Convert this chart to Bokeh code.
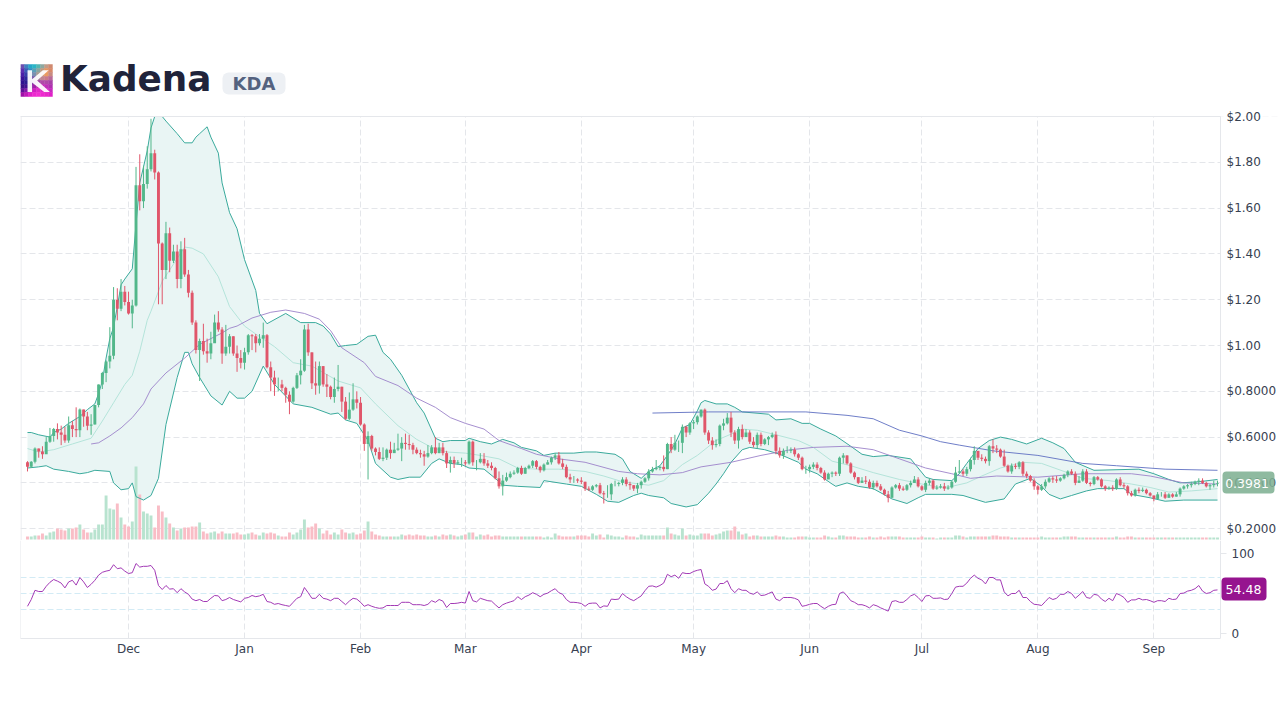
from bokeh.embed import file_html
from bokeh.layouts import column
from bokeh.models import FixedTicker, Range1d, Span
from bokeh.plotting import figure
from bokeh.resources import INLINE

NAME = "Kadena"
SYMBOL = "KDA"
MONTHS = ["Dec", "Jan", "Feb", "Mar", "Apr", "May", "Jun", "Jul", "Aug", "Sep"]
MONTH_DAYS = [27, 58, 89, 117, 148, 178, 209, 239, 270, 301]
PRICE_TICKS = [2.0, 1.8, 1.6, 1.4, 1.2, 1.0, 0.8, 0.6, 0.4, 0.2]
PRICE_LABELS = ["$2.00", "$1.80", "$1.60", "$1.40", "$1.20", "$1.00", "$0.8000", "$0.6000", "$0.4000", "$0.2000"]
LAST_PRICE = "0.3981"
LAST_RSI = "54.48"
FIRST_OPEN = 0.49

close_nov = [.47,.492,.55,.537,.525,.58,.605,.635,.62,.61,.585,.652,.635,.63,.72,.69,.65,.655,.74,.83,.88,.93,.955,1.2,1.16,1.235,1.19]
close_dec = [1.14,1.175,1.70,1.63,1.705,1.77,1.84,1.755,1.445,1.33,1.49,1.37,1.41,1.29,1.42,1.31,1.23,1.10,.98,1.02,.975,.965,1.01,1.10,1.07,.965,.995,1.04,.965,.945,.925]
close_jan = [.97,1.045,1.04,1.01,1.03,1.045,.905,.86,.83,.83,.815,.785,.755,.815,.87,.89,1.07,.97,.835,.825,.91,.83,.82,.775,.81,.82,.755,.68,.72,.765,.75]
close_feb = [.655,.57,.605,.55,.535,.505,.51,.545,.53,.545,.55,.575,.57,.565,.545,.53,.525,.515,.53,.555,.53,.555,.53,.485,.50,.485,.49,.49]
close_mar = [.485,.58,.49,.49,.505,.485,.475,.465,.42,.385,.41,.425,.44,.445,.465,.44,.465,.475,.495,.47,.455,.48,.49,.51,.52,.485,.47,.425,.415,.415,.41]
close_apr = [.405,.375,.37,.385,.39,.355,.35,.35,.395,.395,.40,.415,.395,.39,.375,.39,.405,.42,.45,.46,.465,.47,.46,.57,.545,.575,.575,.645,.62,.66]
close_may = [.665,.69,.72,.62,.585,.565,.57,.65,.66,.685,.62,.585,.635,.60,.62,.58,.565,.61,.57,.59,.60,.61,.54,.52,.54,.54,.545,.525,.51,.46,.46]
close_jun = [.47,.48,.465,.445,.415,.44,.445,.44,.51,.52,.485,.445,.425,.40,.41,.405,.38,.40,.385,.37,.35,.335,.38,.39,.375,.37,.39,.40,.415,.385]
close_jul = [.37,.40,.41,.375,.38,.385,.375,.38,.405,.445,.45,.44,.46,.50,.54,.51,.505,.495,.56,.55,.545,.515,.475,.45,.475,.47,.49,.44,.43,.41,.385]
close_aug = [.37,.385,.405,.42,.415,.41,.42,.435,.45,.44,.40,.41,.45,.40,.395,.425,.415,.385,.375,.38,.375,.415,.39,.385,.355,.345,.37,.365,.37,.355,.345]
close_sep = [.33,.35,.35,.335,.35,.34,.35,.375,.385,.39,.395,.405,.41,.40,.385,.39,.395,.3981]

high_nov = [.495,.495,.555,.55,.56,.60,.64,.64,.66,.65,.645,.69,.67,.73,.725,.72,.71,.70,.74,.83,.885,.935,1.08,1.255,1.25,1.29,1.26]
high_dec = [1.235,1.20,1.78,1.835,1.785,1.87,1.99,1.855,1.76,1.45,1.54,1.515,1.44,1.44,1.455,1.47,1.33,1.24,1.11,1.03,1.095,1.03,1.06,1.135,1.15,1.08,1.09,1.05,1.04,1.0,.98]
high_jan = [.99,1.05,1.05,1.05,1.05,1.10,1.05,.93,.89,.86,.85,.82,.80,.82,.88,.94,1.09,1.095,.97,.93,.93,.91,.875,.825,.86,.915,.82,.775,.795,.835,.80]
high_feb = [.775,.66,.625,.61,.555,.555,.555,.55,.58,.575,.615,.60,.615,.61,.575,.555,.545,.54,.565,.565,.60,.575,.575,.54,.515,.515,.50,.51]
high_mar = [.50,.585,.585,.50,.53,.53,.50,.49,.47,.45,.435,.445,.45,.455,.47,.475,.47,.48,.50,.50,.475,.485,.50,.515,.53,.535,.505,.48,.44,.43,.42]
high_apr = [.425,.405,.385,.39,.395,.40,.365,.39,.40,.41,.405,.425,.425,.405,.39,.40,.41,.425,.46,.47,.50,.475,.52,.575,.60,.61,.585,.655,.65,.665]
high_may = [.675,.695,.72,.725,.63,.60,.59,.655,.68,.705,.71,.63,.645,.655,.635,.63,.60,.62,.62,.595,.605,.62,.625,.555,.55,.56,.555,.555,.53,.515,.475]
high_jun = [.48,.49,.49,.47,.455,.445,.45,.45,.515,.53,.52,.49,.45,.425,.425,.43,.415,.41,.41,.395,.375,.365,.385,.395,.40,.385,.395,.41,.43,.425]
high_jul = [.39,.41,.42,.415,.39,.395,.40,.39,.41,.47,.50,.46,.47,.51,.56,.535,.525,.515,.565,.59,.565,.55,.545,.48,.485,.485,.495,.495,.45,.435,.42]
high_aug = [.39,.395,.415,.425,.43,.43,.425,.44,.455,.46,.45,.43,.46,.46,.405,.43,.43,.42,.39,.385,.39,.42,.425,.40,.39,.365,.375,.38,.38,.375,.36]
high_sep = [.345,.36,.36,.36,.355,.355,.36,.38,.39,.395,.405,.41,.42,.42,.405,.395,.41,.41]

low_nov = [.45,.465,.485,.51,.505,.56,.575,.58,.59,.565,.575,.575,.60,.60,.60,.645,.63,.61,.655,.73,.81,.84,.90,.94,1.11,1.15,1.175]
low_dec = [1.135,1.075,1.17,1.59,1.60,1.685,1.76,1.725,1.18,1.18,1.29,1.32,1.36,1.25,1.25,1.30,1.21,1.09,.965,.845,.96,.925,.94,1.06,1.06,.92,.955,.965,.955,.885,.90]
low_jan = [.895,.96,.98,.97,1.0,.99,.90,.80,.78,.80,.80,.75,.70,.75,.81,.83,.885,.955,.81,.785,.79,.82,.775,.765,.75,.80,.71,.675,.675,.715,.725]
low_feb = [.65,.54,.415,.54,.52,.50,.495,.50,.505,.54,.54,.495,.545,.545,.525,.525,.51,.475,.51,.525,.525,.53,.52,.465,.445,.465,.48,.47]
low_mar = [.475,.48,.475,.455,.485,.475,.465,.455,.415,.375,.345,.405,.42,.435,.44,.435,.44,.46,.465,.46,.445,.45,.48,.48,.50,.48,.46,.42,.40,.40,.40]
low_apr = [.395,.365,.365,.365,.38,.35,.31,.335,.325,.385,.385,.39,.385,.37,.365,.355,.375,.40,.41,.445,.455,.455,.45,.46,.53,.54,.535,.53,.60,.61]
low_may = [.635,.655,.685,.61,.57,.545,.555,.56,.63,.655,.60,.57,.55,.59,.605,.57,.555,.55,.56,.565,.565,.595,.525,.51,.505,.53,.53,.515,.50,.455,.44]
low_jun = [.445,.46,.455,.44,.41,.425,.425,.43,.43,.485,.48,.44,.415,.395,.40,.395,.375,.37,.38,.365,.345,.315,.335,.375,.365,.365,.365,.38,.40,.38]
low_jul = [.365,.36,.39,.37,.37,.375,.365,.37,.375,.40,.44,.43,.43,.45,.48,.50,.495,.485,.475,.53,.53,.51,.47,.445,.44,.46,.46,.43,.42,.405,.37]
low_aug = [.35,.365,.375,.40,.40,.40,.405,.415,.425,.435,.39,.40,.405,.395,.385,.39,.41,.38,.365,.37,.365,.37,.385,.375,.345,.34,.34,.355,.36,.35,.34]
low_sep = [.32,.33,.34,.33,.335,.335,.34,.34,.37,.375,.38,.39,.39,.395,.38,.37,.38,.385]

vol_nov = [3,3,4,4,6,4,7,8,11,10,9,11,11,12,15,10,7,7,10,15,15,44,31,30,36,22,15]
vol_dec = [13,18,73,45,28,26,24,12,34,28,22,16,12,9,11,12,12,13,13,17,8,6,7,8,6,8,6,6,6,7,5]
vol_jan = [5,6,7,5,4,7,6,7,6,4,3,3,7,5,7,10,20,12,13,16,11,6,9,5,7,5,10,7,6,7,5]
vol_feb = [6,9,18,8,5,4,3,3,3,3,3,5,4,5,4,5,4,4,3,3,4,3,5,4,5,4,3,4]
vol_mar = [5,7,7,3,5,4,5,3,4,4,3,3,3,3,3,3,3,3,3,3,3,2,3,2,6,4,3,3,3,3,4]
vol_apr = [4,4,3,6,4,5,2,5,4,3,3,2,4,3,3,2,5,4,4,4,4,4,4,12,6,5,4,11,4,5]
vol_may = [4,4,6,6,6,4,5,6,8,9,9,13,8,5,6,3,4,4,3,3,3,3,4,3,3,2,2,2,3,3,3]
vol_jun = [2,2,2,2,4,3,2,2,4,4,3,3,3,2,2,2,3,2,2,3,2,3,3,3,3,2,2,2,2,2]
vol_jul = [3,2,2,2,1,2,2,2,2,4,4,3,2,3,3,3,3,3,3,4,4,3,3,3,2,2,2,2,2,2,2]
vol_aug = [2,3,2,2,2,2,2,3,3,3,3,2,2,2,2,2,2,2,2,2,2,3,2,2,3,3,2,2,2,2,2]
vol_sep = [2,2,2,2,2,2,2,2,2,2,2,2,2,2,2,2,2,2]

rsi_nov = [34,42.5,54,52.5,52.5,59,64,67.5,65.5,63,57,64.5,66.5,60.5,70,64.5,57.5,61.5,66.5,73,76.5,78,79,86,81,82,78]
rsi_dec = [75,76,87.5,83,84,84,85,79,60,55,60,55.5,56,51,56,52,49,43,41,42.5,40,40,44,47.5,47,41,42.5,45,42.5,41,39.5]
rsi_jan = [44,45,47.5,46,47,49,40,39,36.5,37.5,36,35,34,39,44,46,57.5,51,44,44,49,44,43,41,44,44,40,36,40.5,44,43]
rsi_feb = [39,34,36,34,32.5,31.5,32,35,35,35,35,39,39,39,36,36,36,35,36.5,41,39,42.5,40.5,32.5,37.5,37.5,38,39]
rsi_mar = [38,52.5,41,39.5,44,42.5,41,40.5,36,32,36,38,39.5,41,46,42.5,46,48,51,49,46,49,50.5,53.5,56,51,49,42.5,39,39,38.5]
rsi_apr = [37.5,34,37.5,38,38,32,34.5,34,43,42.5,43,50,46,43,41,44,47,53.5,59,59.5,58,60,63,74,71,73,69,76,75,75]
rsi_may = [77.5,79,80,62,59,54,55.5,62.5,62.5,66,56,51,56,54,54,50.5,49,52,47.5,48,50,52,43,41,45,45,45,44,42,34,35]
rsi_jun = [36.5,37.5,37.5,34,31,34,36,36.5,50,52,47,41,39,36,36,34.5,32,36,34.5,32,30,28,40,41,39,39,42.5,47,49,45]
rsi_jul = [40,47,47.5,44,44,44.5,42.5,43,50,58,59,59,63,69,73,69,67,62,70,70,67,67,52,47,50,50,54,45,45,40,36.5]
rsi_aug = [36,35,40,45,42.5,44,49,49,52.5,50,44,48,52.5,45,44,49,48,43,40,44,41,50,48,45,39,42,42,44,42,42.5,41]
rsi_sep = [39,41,41,40,44,42.5,43,50,50.5,53,54,56,60,53,50,51,54,54.48]

upper_day = [0,1,3,6,7,9,11,14,16,18,19,20,21,22,23,24,25,26,28,29,30,31,32,33,34,36,37,40,42,44,45,46,48,49,51,52,54,56,58,61,62,64,69,73,77,79,81,83,85,88,91,93,95,97,100,102,104,106,109,111,113,117,118,121,124,127,130,132,136,138,141,146,149,152,157,159,161,164,166,169,171,173,175,177,179,180,181,184,187,189,191,198,200,204,207,209,212,216,220,223,226,230,236,238,240,242,247,249,251,254,257,260,263,267,271,274,277,280,285,297,301,305,308,313,318]
upper_val = [.62,.62,.61,.60,.62,.635,.66,.69,.72,.745,.79,.845,.945,1.03,1.08,1.17,1.265,1.29,1.335,1.53,1.71,1.78,1.85,1.95,2.0,2.0,1.98,1.925,1.885,1.885,1.91,1.925,1.955,1.91,1.84,1.71,1.58,1.51,1.375,1.24,1.14,1.095,1.14,1.10,1.10,1.085,1.05,.995,1.0,1.005,1.04,1.045,.97,.94,.87,.81,.75,.705,.595,.58,.585,.585,.595,.58,.57,.59,.575,.555,.54,.52,.53,.53,.535,.535,.525,.505,.45,.42,.45,.475,.52,.57,.64,.655,.715,.75,.76,.745,.745,.73,.71,.70,.675,.68,.66,.66,.635,.605,.56,.525,.515,.52,.505,.465,.425,.415,.41,.44,.485,.55,.585,.60,.59,.57,.595,.575,.55,.49,.455,.46,.44,.415,.40,.405,.415]
lower_day = [0,3,5,7,11,14,16,18,22,23,25,27,28,29,31,33,35,37,40,42,43,44,46,49,52,54,56,58,60,63,66,71,76,81,83,85,88,91,93,97,99,102,105,108,110,113,116,118,122,125,127,131,137,138,144,148,152,155,158,162,164,166,170,172,176,179,182,184,186,188,191,193,197,201,206,208,211,215,216,219,222,226,231,235,238,240,247,250,256,261,264,268,271,273,276,279,283,286,293,295,300,304,309,318]
lower_val = [.465,.47,.475,.46,.45,.44,.445,.455,.45,.40,.37,.375,.40,.34,.325,.345,.42,.655,.86,.97,.97,.92,.86,.78,.74,.80,.77,.77,.80,.91,.83,.745,.73,.70,.705,.675,.66,.585,.485,.425,.415,.425,.425,.485,.505,.485,.48,.465,.46,.42,.39,.385,.38,.41,.395,.385,.35,.32,.315,.345,.355,.345,.335,.31,.295,.305,.355,.395,.44,.49,.545,.555,.545,.525,.49,.46,.44,.395,.385,.40,.385,.375,.33,.31,.335,.35,.35,.345,.315,.33,.395,.42,.385,.35,.33,.345,.365,.375,.375,.35,.335,.32,.325,.325]
middle_day = [0,3,7,12,17,20,23,26,28,30,32,33,36,40,42,44,47,51,54,58,61,66,71,76,83,89,93,99,104,108,112,117,121,126,131,136,142,149,154,159,166,170,175,179,184,189,191,195,200,206,210,215,220,226,233,239,244,247,251,255,260,266,271,277,282,289,295,300,305,311,318]
middle_val = [.55,.535,.545,.57,.595,.67,.75,.83,.87,.975,1.11,1.15,1.28,1.38,1.43,1.425,1.40,1.30,1.17,1.085,1.05,.995,.925,.91,.845,.815,.745,.65,.59,.555,.535,.53,.52,.505,.465,.46,.46,.45,.43,.405,.39,.41,.48,.52,.585,.62,.635,.63,.61,.585,.555,.495,.475,.445,.415,.395,.38,.385,.40,.43,.465,.49,.485,.45,.42,.41,.395,.38,.36,.365,.375]
ma_short_day = [17,19,22,25,28,31,33,37,42,46,52,54,56,60,65,69,74,78,81,84,90,93,99,104,109,113,117,122,126,132,136,142,149,158,163,169,175,180,188,196,204,210,219,226,233,240,247,252,259,270,282,295,300,309,318]
ma_short_val = [.57,.575,.605,.64,.685,.745,.81,.88,.945,1.005,1.055,1.075,1.085,1.12,1.145,1.155,1.14,1.115,1.065,.99,.925,.865,.825,.77,.73,.685,.66,.635,.585,.55,.525,.505,.49,.45,.44,.435,.445,.47,.49,.52,.545,.555,.56,.545,.505,.465,.44,.42,.43,.425,.44,.44,.43,.40,.395]
ma_long_day = [167,182,191,208,219,226,233,239,244,249,258,270,282,291,304,318]
ma_long_val = [.705,.71,.71,.71,.695,.68,.63,.605,.58,.565,.54,.52,.485,.475,.46,.455]

LOGO_COLORS = [
    ["#6a4fb0", "#3f7fc0", "#25a6c8", "#2ab5c6", "#55b5b0", "#8fa8a0", "#c39c88", "#d08a70"],
    ["#5b2fb0", "#3a5db5", "#2f8fc2", "#5ba0b8", "#8aa5a0", "#c09a80", "#e89560", "#d88a6a"],
    ["#4a1fa8", "#3540a8", "#4a6ab5", "#7a90b0", "#a89a90", "#cf9a7a", "#ea9a60", "#c88a80"],
    ["#3a1298", "#2c2a9c", "#5a3aa8", "#7a5aa8", "#a27a98", "#c08590", "#c87a8a", "#b86a98"],
    ["#301090", "#2a1a90", "#5a2098", "#8030a0", "#a03aa0", "#b048a8", "#b048a8", "#a840a8"],
    ["#3a0e88", "#401090", "#7018a0", "#a020a8", "#c028b0", "#c828b8", "#c030b8", "#b030b0"],
    ["#601098", "#8018a8", "#b020b8", "#d020c0", "#e028c8", "#e028c8", "#d828c8", "#c828c0"],
    ["#a010a8", "#c018b8", "#e020c8", "#ee28d0", "#f030d0", "#ee28d0", "#e828c8", "#e020c8"],
]
LOGO_KX = [0.22, 0.36, 0.36, 0.70, 0.88, 0.52, 0.92, 0.74, 0.36, 0.36, 0.22]
LOGO_KY = [0.18, 0.18, 0.46, 0.18, 0.18, 0.50, 0.86, 0.86, 0.56, 0.86, 0.86]

series = lambda *parts: [v for part in parts for v in part]
close = series(close_nov, close_dec, close_jan, close_feb, close_mar, close_apr, close_may, close_jun, close_jul, close_aug, close_sep)
high = series(high_nov, high_dec, high_jan, high_feb, high_mar, high_apr, high_may, high_jun, high_jul, high_aug, high_sep)
low = series(low_nov, low_dec, low_jan, low_feb, low_mar, low_apr, low_may, low_jun, low_jul, low_aug, low_sep)
volume = series(vol_nov, vol_dec, vol_jan, vol_feb, vol_mar, vol_apr, vol_may, vol_jun, vol_jul, vol_aug, vol_sep)
rsi = series(rsi_nov, rsi_dec, rsi_jan, rsi_feb, rsi_mar, rsi_apr, rsi_may, rsi_jun, rsi_jul, rsi_aug, rsi_sep)
opens = [FIRST_OPEN] + close[:-1]
days = list(range(len(close)))

UP, DOWN = "#52b78a", "#e0566a"
UP_VOL, DOWN_VOL = "#b8e3cf", "#f9bdc6"
GRID, AXIS, INK = "#e4e6ea", "#e5e7eb", "#374151"
DASH = [6, 3]
X0, X1 = -1.87, 318.8
XEND = X0 + 1260 * (X1 - X0) / 1200
day_of = lambda px: X0 + (px - 20) * (X1 - X0) / 1200
price_of = lambda py: 2.0 - (py - 116) / 229
rsi_of = lambda py: (633 - py) / 0.8
Y_BOTTOM, Y_TOP = price_of(540), price_of(108)

header = figure(width=1280, height=108, frame_width=1260, frame_height=108, x_range=(20, 1280), y_range=(108, 0),
                output_backend="svg", toolbar_location=None, min_border_left=20, min_border_right=0,
                min_border_top=0, min_border_bottom=0, outline_line_color=None,
                x_axis_location=None, y_axis_location=None)
header.xgrid.visible = False
header.ygrid.visible = False
logo_x, logo_y, logo_c = [], [], []
for r, row in enumerate(LOGO_COLORS):
    for c, col in enumerate(row):
        logo_x.append(20 + 2 + c * 4)
        logo_y.append(64 + 2 + r * 4)
        logo_c.append(col)
header.rect(logo_x, logo_y, width=4.4, height=4.4, fill_color=logo_c, line_color=None)
header.patch([20 + 32 * v for v in LOGO_KX], [64 + 32 * v for v in LOGO_KY], fill_color="white", fill_alpha=0.93, line_color=None)
header.text([59.5], [78], text=[NAME], text_font=dict(value="DejaVu Sans"), text_font_style="bold",
            text_font_size="35.8px", text_color="#20233a", text_baseline="middle")
header.quad(left=[222], right=[285], top=[72], bottom=[94], fill_color="#edf0f4", line_color=None, border_radius=6)
header.text([253.5], [83], text=[SYMBOL], text_font=dict(value="DejaVu Sans"), text_font_style="bold",
            text_font_size="18px", text_color="#54627f", text_align="center", text_baseline="middle")

price = figure(width=1280, height=432, frame_width=1260, frame_height=432, x_range=(X0, XEND),
               y_range=Range1d(Y_BOTTOM, Y_TOP), output_backend="svg", toolbar_location=None,
               x_axis_location="above", y_axis_location="right", min_border_left=20, min_border_top=0,
               min_border_bottom=0, min_border_right=0, outline_line_color=None)
price.extra_y_ranges = {"vol": Range1d(-1, 431)}
price.xgrid.ticker = FixedTicker(ticks=MONTH_DAYS)
price.ygrid.ticker = FixedTicker(ticks=PRICE_TICKS)
for g in (price.xgrid, price.ygrid):
    g.grid_line_color = GRID
    g.grid_line_dash = DASH
price.xaxis.fixed_location = 2.0
price.xaxis.bounds = (X0, X1)
price.xaxis.ticker = FixedTicker(ticks=[])
price.xaxis.axis_line_color = AXIS
price.xaxis.major_tick_line_color = None
price.xaxis.minor_tick_line_color = None
price.yaxis.fixed_location = X1
price.yaxis.bounds = (Y_BOTTOM, 2.0)
price.yaxis.ticker = FixedTicker(ticks=PRICE_TICKS)
price.yaxis.major_label_overrides = dict(zip(PRICE_TICKS, PRICE_LABELS))
price.yaxis.major_tick_line_color = None
price.yaxis.major_tick_out = 0
price.yaxis.major_tick_in = 0
price.yaxis.minor_tick_line_color = None
price.yaxis.axis_line_color = AXIS
price.yaxis.major_label_standoff = 6
price.yaxis.major_label_text_font_size = "12px"
price.yaxis.major_label_text_font = "DejaVu Sans"
price.yaxis.major_label_text_color = INK

price.quad(left=[X1, X0], right=[XEND, XEND], top=[2.0, Y_TOP], bottom=[Y_BOTTOM, 2.0], fill_color="white", line_color=None)
price.patch(upper_day + lower_day[::-1], upper_val + lower_val[::-1], fill_color="#e9f5f4", line_color=None)
price.vbar(days, width=0.78, bottom=0, top=volume, y_range_name="vol", line_color=None,
           fill_color=[UP_VOL if c >= o else DOWN_VOL for o, c in zip(opens, close)])
price.line(middle_day, middle_val, line_color="#b4e4da", line_width=1)
price.line(upper_day, upper_val, line_color="#3aaa9c", line_width=1)
price.line(lower_day, lower_val, line_color="#3aaa9c", line_width=1)
price.line(ma_short_day, ma_short_val, line_color="#9c82c9", line_width=0.9)
price.line(ma_long_day, ma_long_val, line_color="#5f6fc2", line_width=0.9)
colors = [UP if c >= o else DOWN for o, c in zip(opens, close)]
price.segment(days, high, days, low, line_color=colors, line_width=1)
price.vbar(days, width=0.78, bottom=opens, top=close, fill_color=colors, line_color=None)
price.segment([day_of(20.5)], [Y_BOTTOM], [day_of(20.5)], [2.0], line_color=AXIS, line_width=1)
price.quad(left=[day_of(1222)], right=[day_of(1274)], top=[price_of(471)], bottom=[price_of(493)],
           fill_color="#7fb093", fill_alpha=0.88, line_color=None, border_radius=4, level="overlay")
price.text([day_of(1246.5)], [float(LAST_PRICE)], text=[LAST_PRICE], text_color="white", text_font=dict(value="DejaVu Sans"),
           text_font_size="12.5px", text_align="center", text_baseline="middle", level="overlay")

osc = figure(width=1280, height=132, frame_width=1260, frame_height=98, x_range=price.x_range,
             y_range=Range1d(-6.25, 116.25), output_backend="svg", toolbar_location=None,
             y_axis_location="right", min_border_left=20, min_border_top=0, min_border_bottom=34,
             min_border_right=0, outline_line_color=None)
osc.xgrid.ticker = FixedTicker(ticks=MONTH_DAYS)
osc.ygrid.ticker = FixedTicker(ticks=[30, 50, 70])
osc.xgrid.grid_line_color = GRID
osc.xgrid.grid_line_dash = DASH
osc.ygrid.grid_line_color = "#d3ebf5"
osc.ygrid.grid_line_dash = DASH
osc.xaxis.ticker = FixedTicker(ticks=MONTH_DAYS)
osc.xaxis.bounds = (X0, X1)
osc.xaxis.major_label_overrides = dict(zip(MONTH_DAYS, MONTHS))
osc.xaxis.major_tick_line_color = None
osc.xaxis.major_tick_out = 0
osc.xaxis.major_tick_in = 0
osc.xaxis.minor_tick_line_color = None
osc.xaxis.axis_line_color = AXIS
osc.xaxis.major_label_standoff = 3
osc.yaxis.fixed_location = X1
osc.yaxis.ticker = FixedTicker(ticks=[0, 100])
osc.yaxis.major_tick_line_color = AXIS
osc.yaxis.major_tick_out = 6
osc.yaxis.major_tick_in = 0
osc.yaxis.minor_tick_line_color = None
osc.yaxis.axis_line_color = AXIS
osc.yaxis.major_label_standoff = 5
for ax in (osc.xaxis, osc.yaxis):
    ax.major_label_text_font_size = "12px"
    ax.major_label_text_font = "DejaVu Sans"
    ax.major_label_text_color = INK
osc.quad(left=[X1], right=[XEND], top=[116.25], bottom=[-6.25], fill_color="white", line_color=None)
osc.line(days, rsi, line_color="#a23ab5", line_width=1)
osc.add_layout(Span(location=X0, dimension="height", line_color=AXIS, line_width=1))
osc.quad(left=[day_of(1221)], right=[day_of(1266)], top=[rsi_of(577)], bottom=[rsi_of(600)],
         fill_color="#96148f", line_color=None, border_radius=4, level="overlay")
osc.text([day_of(1243)], [float(LAST_RSI)], text=[LAST_RSI], text_color="white", text_font=dict(value="DejaVu Sans"),
         text_font_size="12.5px", text_align="center", text_baseline="middle", level="overlay")

page = column(header, price, osc, spacing=0)
open("out.html", "w").write(file_html(page, INLINE))
for name, arr in [("close", close), ("high", high), ("low", low), ("vol", volume), ("rsi", rsi)]:
    assert len(arr) == 319, (name, len(arr))
assert len(upper_day) == len(upper_val) and len(lower_day) == len(lower_val)
assert len(middle_day) == len(middle_val) and len(ma_short_day) == len(ma_short_val) and len(ma_long_day) == len(ma_long_val)
